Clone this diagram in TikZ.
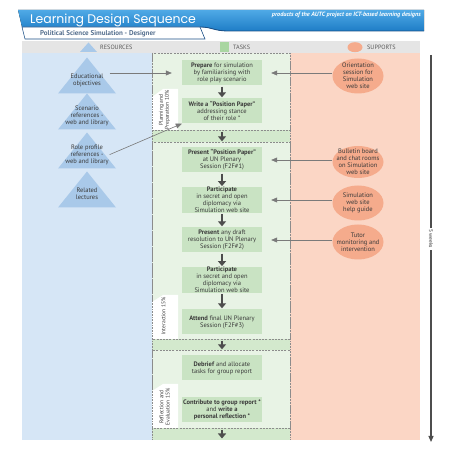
\documentclass[tikz,border=0pt]{standalone}
\usepackage{fontspec}
\setmainfont{PT Sans}
\newfontfamily\titlefont{Poppins}
\usepackage{xcolor}
\usepackage{tikz}
\usetikzlibrary{arrows.meta, shapes.geometric}

\definecolor{resbg}{HTML}{D6E6F6}
\definecolor{restri}{HTML}{A9C9E9}
\definecolor{taskbg}{HTML}{E8F3E5}
\definecolor{taskband}{HTML}{D3E9CD}
\definecolor{taskbox}{HTML}{C9E3C3}
\definecolor{tasksq}{HTML}{A9D6A1}
\definecolor{suppbg}{HTML}{FBD6C5}
\definecolor{suppell}{HTML}{F5AB8C}
\definecolor{bannerlt}{HTML}{4FA9E6}
\definecolor{bannerdk}{HTML}{1E7DC6}
\definecolor{bannerln}{HTML}{1A4F86}
\definecolor{subtxt}{HTML}{56708F}
\definecolor{legendbg}{HTML}{E5E5E5}
\definecolor{txtgrey}{HTML}{3A3A3A}
\definecolor{flowgrey}{HTML}{4D4D4D}
\definecolor{linkgrey}{HTML}{7A7A7A}
\definecolor{phaseln}{HTML}{8C8C8C}

\begin{document}
\begin{tikzpicture}[x=1pt, y=1pt,
    every node/.style={font=\fontsize{6.5}{6.9}\selectfont, text=txtgrey, align=center, inner sep=0pt},
    task/.style={fill=taskbox, minimum width=80pt, minimum height=25pt},
    supp/.style={ellipse, fill=suppell, minimum width=51pt, minimum height=35pt, inner xsep=-6pt, inner ysep=-1.5pt},
    flow/.style={-{Triangle[width=8pt,length=5pt]}, line width=2.6pt, draw=flowgrey},
    link/.style={-{Triangle[width=5pt,length=6pt]}, line width=0.6pt, draw=linkgrey},
    phase/.style={fill=taskbg, draw=phaseln, dash pattern=on 2pt off 1.2pt, line width=0.5pt},
    phaselabel/.style={rotate=90, font=\fontsize{5.5}{6.2}\selectfont},
    legendtext/.style={anchor=west, font=\fontsize{6.2}{7}\selectfont, text=black!65}]
                \useasboundingbox (0,0) rectangle (452,452);

                % Header banner
                \fill[top color=bannerlt, bottom color=bannerdk] (18,442) -- (424,442) -- (424,421) -- (228,421)
                    .. controls (214,421) and (212,425) .. (200,425) -- (22,425) -- cycle;
                \draw[bannerln, line width=0.8pt] (424,421) -- (228,421) .. controls (214,421) and (212,425) .. (200,425);
                \filldraw[fill=white, draw=bannerln, line width=0.6pt] (22,425) -- (200,425) -- (205,413) -- (25,413) -- cycle;
                \node[anchor=west, text=white, font=\titlefont\fontsize{12.5}{14}\selectfont] (title) at (30,432) {Learning Design Sequence};
                \node[anchor=east, text=white, font=\bfseries\itshape\fontsize{6.2}{7}\selectfont] (proj) at (421,437) {products of the AUTC project on ICT-based learning designs};
                \node[anchor=west, text=subtxt, font=\bfseries\fontsize{7}{8}\selectfont] (sub) at (40,418.5) {Political Science Simulation - Designer};

                % Legend
                \fill[legendbg] (22,399) rectangle (420,411);
                \fill[restri] (80,400) -- (97,400) -- (88.5,409.5) -- cycle;
                \node[legendtext] (LR) at (100,405) {RESOURCES};
                \fill[tasksq] (220,400) rectangle (229,409.5);
                \node[legendtext] (LT) at (233,405) {TASKS};
                \fill[suppell] (355,404.8) ellipse [x radius=7.5, y radius=5];
                \node[legendtext] (LS) at (367,405) {SUPPORTS};

                % Columns
                \fill[resbg] (22,399) rectangle (152,12);
                \fill[taskband] (152,399) rectangle (290,12);
                \fill[suppbg] (290,399) rectangle (420,12);

                % Phases
                \draw[phase] (152,399) rectangle (290,322);
                \draw[phase] (152,310) rectangle (290,113);
                \draw[phase] (152,102) rectangle (290,24);
                \fill[white] (152,322) -- (152,355) -- (163,363) -- (178,363) -- (178,322) -- cycle;
                \fill[white] (152,113) -- (152,150) -- (163,157) -- (178,157) -- (178,113) -- cycle;
                \fill[white] (152,24) -- (152,61) -- (163,68) -- (178,68) -- (178,24) -- cycle;
                \draw[phaseln, densely dotted, line width=0.6pt] (152,399) -- (152,12);
                \draw[phaseln, densely dotted, line width=0.6pt] (290,399) -- (290,12);
                \node[phaselabel] (P1) at (164.5,342) {Planning and\\Preparation 10\%};
                \node[phaselabel] (P2) at (163.5,136) {Interaction 15\%};
                \node[phaselabel] (P3) at (164.5,45) {Reflection and\\Evaluation 15\%};

                % Resources
                \foreach \ty in {372,336,297,258}
                    \fill[restri] (87,\ty+22.5) -- (116,\ty-13.5) -- (58,\ty-13.5) -- cycle;
                \node (R1) at (87,372) {Educational\\objectives};
                \node (R2) at (87,336) {Scenario\\references -\\web and library};
                \node (R3) at (87,297) {Role profile\\references -\\web and library};
                \node (R4) at (87,258) {Related\\lectures};

                % Tasks
                \node[task] (T1) at (222,379) {\textbf{Prepare} for simulation\\by familiarising with\\role play scenario};
                \node[task] (T2) at (222,341) {\textbf{Write a “Position Paper”}\\addressing stance\\of their role *};
                \node[task] (T3) at (222,292) {\textbf{Present “Position Paper”}\\at UN Plenary\\Session (F2F\#1)};
                \node[task] (T4) at (222,252) {\textbf{Participate}\\in secret and open\\diplomacy via\\Simulation web site};
                \node[task] (T5) at (222,212) {\textbf{Present} any draft\\resolution to UN Plenary\\Session (F2F\#2)};
                \node[task] (T6) at (222,172) {\textbf{Participate}\\in secret and open\\diplomacy via\\Simulation web site};
                \node[task] (T7) at (222,130) {\textbf{Attend} final UN Plenary\\Session (F2F\#3)};
                \node[task] (T8) at (222,84) {\textbf{Debrief} and allocate\\tasks for group report};
                \node[task] (T9) at (222,42) {\textbf{Contribute to group report *}\\and \textbf{write a}\\\textbf{personal reflection *}};
                \coordinate (Tend) at (222,13.5);

                \draw[flow, shorten <=1pt, shorten >=1pt] (T1) -- (T2);
                \draw[flow, shorten <=8pt, shorten >=6pt] (T2) -- (T3);
                \draw[flow, shorten <=1pt, shorten >=1pt] (T3) -- (T4);
                \draw[flow, shorten <=1pt, shorten >=1pt] (T4) -- (T5);
                \draw[flow, shorten <=1pt, shorten >=1pt] (T5) -- (T6);
                \draw[flow, shorten <=1pt, shorten >=1pt] (T6) -- (T7);
                \draw[flow, shorten <=6pt, shorten >=6pt] (T7) -- (T8);
                \draw[flow, shorten <=7pt] (T9) -- (Tend);

                % Supports
                \node[supp] (S1) at (358,376) {Orientation\\session for\\Simulation\\web site};
                \node[supp, minimum height=32pt] (S2) at (358,290) {Bulletin board\\and chat rooms\\on Simulation\\web site};
                \node[supp] (S3) at (358,249) {Simulation\\web site\\help guide};
                \node[supp] (S4) at (358,210) {Tutor\\monitoring and\\intervention};

                % Links
                \draw[link, shorten <=6pt, shorten >=10pt] (R1.east |- T1.west) -- (T1.west);
                \draw[link, shorten <=1pt] (R3.east) -- (T2.south west);
                \draw[link, shorten >=9pt] (S1.west |- T1.east) -- (T1.east);
                \draw[link, shorten >=9pt] (S2.west |- T3.east) -- (T3.east);
                \draw[link, shorten >=9pt] (S3.west |- T4.east) -- (T4.east);
                \draw[link, shorten >=9pt] (S4.west |- T5.east) -- (T5.east);

                % Time line
                \coordinate (W0) at (431,397);
                \coordinate (W1) at (431,10);
                \draw[flowgrey, line width=1.2pt, -{Triangle[width=5pt,length=6pt]}] (W0) -- node[pos=0.475, rotate=-90, fill=white, inner sep=1.5pt, font=\fontsize{5.5}{6}\selectfont] (weeks) {5 weeks} (W1);
            \end{tikzpicture}
\end{document}
